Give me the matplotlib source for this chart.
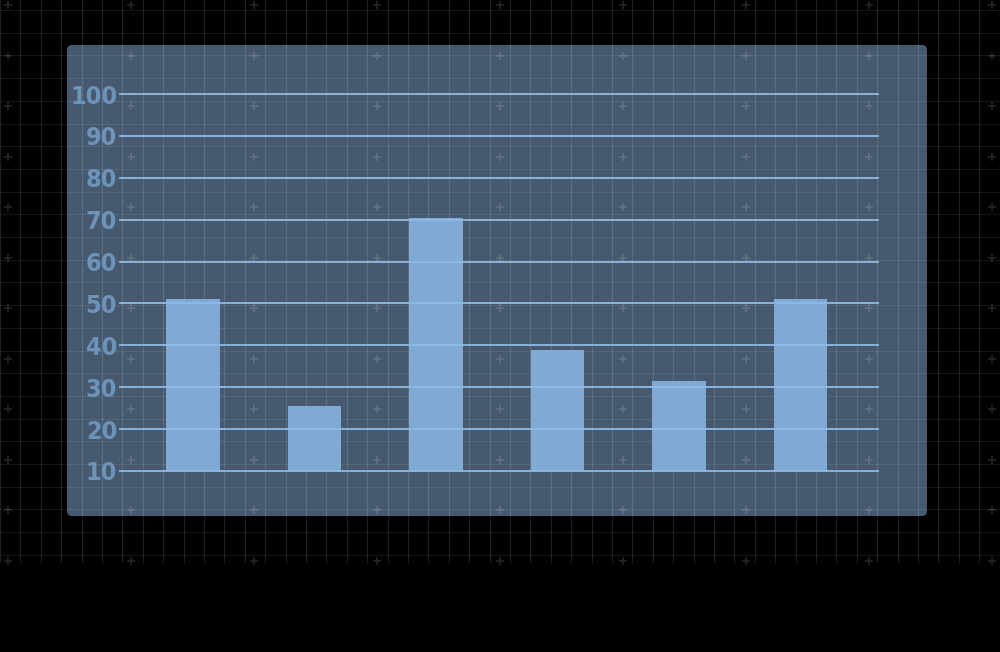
import matplotlib
matplotlib.use('Agg')
import matplotlib.pyplot as plt
from matplotlib.patches import FancyBboxPatch
import numpy as np

# chart data
categories = ['A', 'B', 'C', 'D', 'E', 'F']
values = [51, 25.5, 70.5, 39, 31.5, 51]
y_ticks = [10, 20, 30, 40, 50, 60, 70, 80, 90, 100]

bg_color = '#000000'
panel_color = '#46596f'
line_color = '#8dbbe8'
bar_color = '#80a9d3'
label_color = '#6e93b8'

W, H = 1000, 652
fig = plt.figure(figsize=(W / 100, H / 100), dpi=100)
fig.patch.set_facecolor(bg_color)

# background layer in pixel units (grid, panel, plus marks)
bg = fig.add_axes([0, 0, 1, 1])
bg.set_xlim(0, W)
bg.set_ylim(H, 0)
bg.axis('off')

panel = FancyBboxPatch((67, 45), 860, 471, boxstyle='round,pad=0,rounding_size=5',
                       facecolor=panel_color, edgecolor='none', zorder=1)
bg.add_patch(panel)

grid_bottom = 562
for gx in np.arange(0, W, 20.4):
    bg.plot([gx, gx], [0, grid_bottom], color='white', alpha=0.13, lw=0.8, zorder=2)
for gy in np.arange(10, grid_bottom, 22.7):
    bg.plot([0, W], [gy, gy], color='white', alpha=0.09, lw=0.8, zorder=2)

px, py = np.meshgrid(np.arange(8, W, 123), np.arange(5, grid_bottom, 50.5))
bg.scatter(px.ravel(), py.ravel(), marker='+', s=36, color='white', alpha=0.15,
           linewidths=1.2, zorder=2)

# chart axes
ax = fig.add_axes([0.12, 1 - 471 / H, 0.758, (471 - 94) / H])
ax.set_facecolor('none')
x = np.arange(len(categories))
ax.bar(x, values, width=0.44, color=bar_color, zorder=3)

for t in y_ticks:
    ax.axhline(t, color=line_color, lw=1.3, zorder=4, clip_on=False)

ax.set_xlim(-0.6, len(categories) - 1 + 0.64)
ax.set_ylim(10, 100)
ax.set_yticks(y_ticks)
ax.set_yticklabels([str(t) for t in y_ticks], color=label_color, fontsize=18,
                   fontweight='bold', family='DejaVu Sans', fontstretch='condensed')
ax.tick_params(axis='y', length=0, pad=2)
ax.set_xticks([])
for s in ax.spines.values():
    s.set_visible(False)

fig.savefig('out.png', dpi=100, facecolor=bg_color)
